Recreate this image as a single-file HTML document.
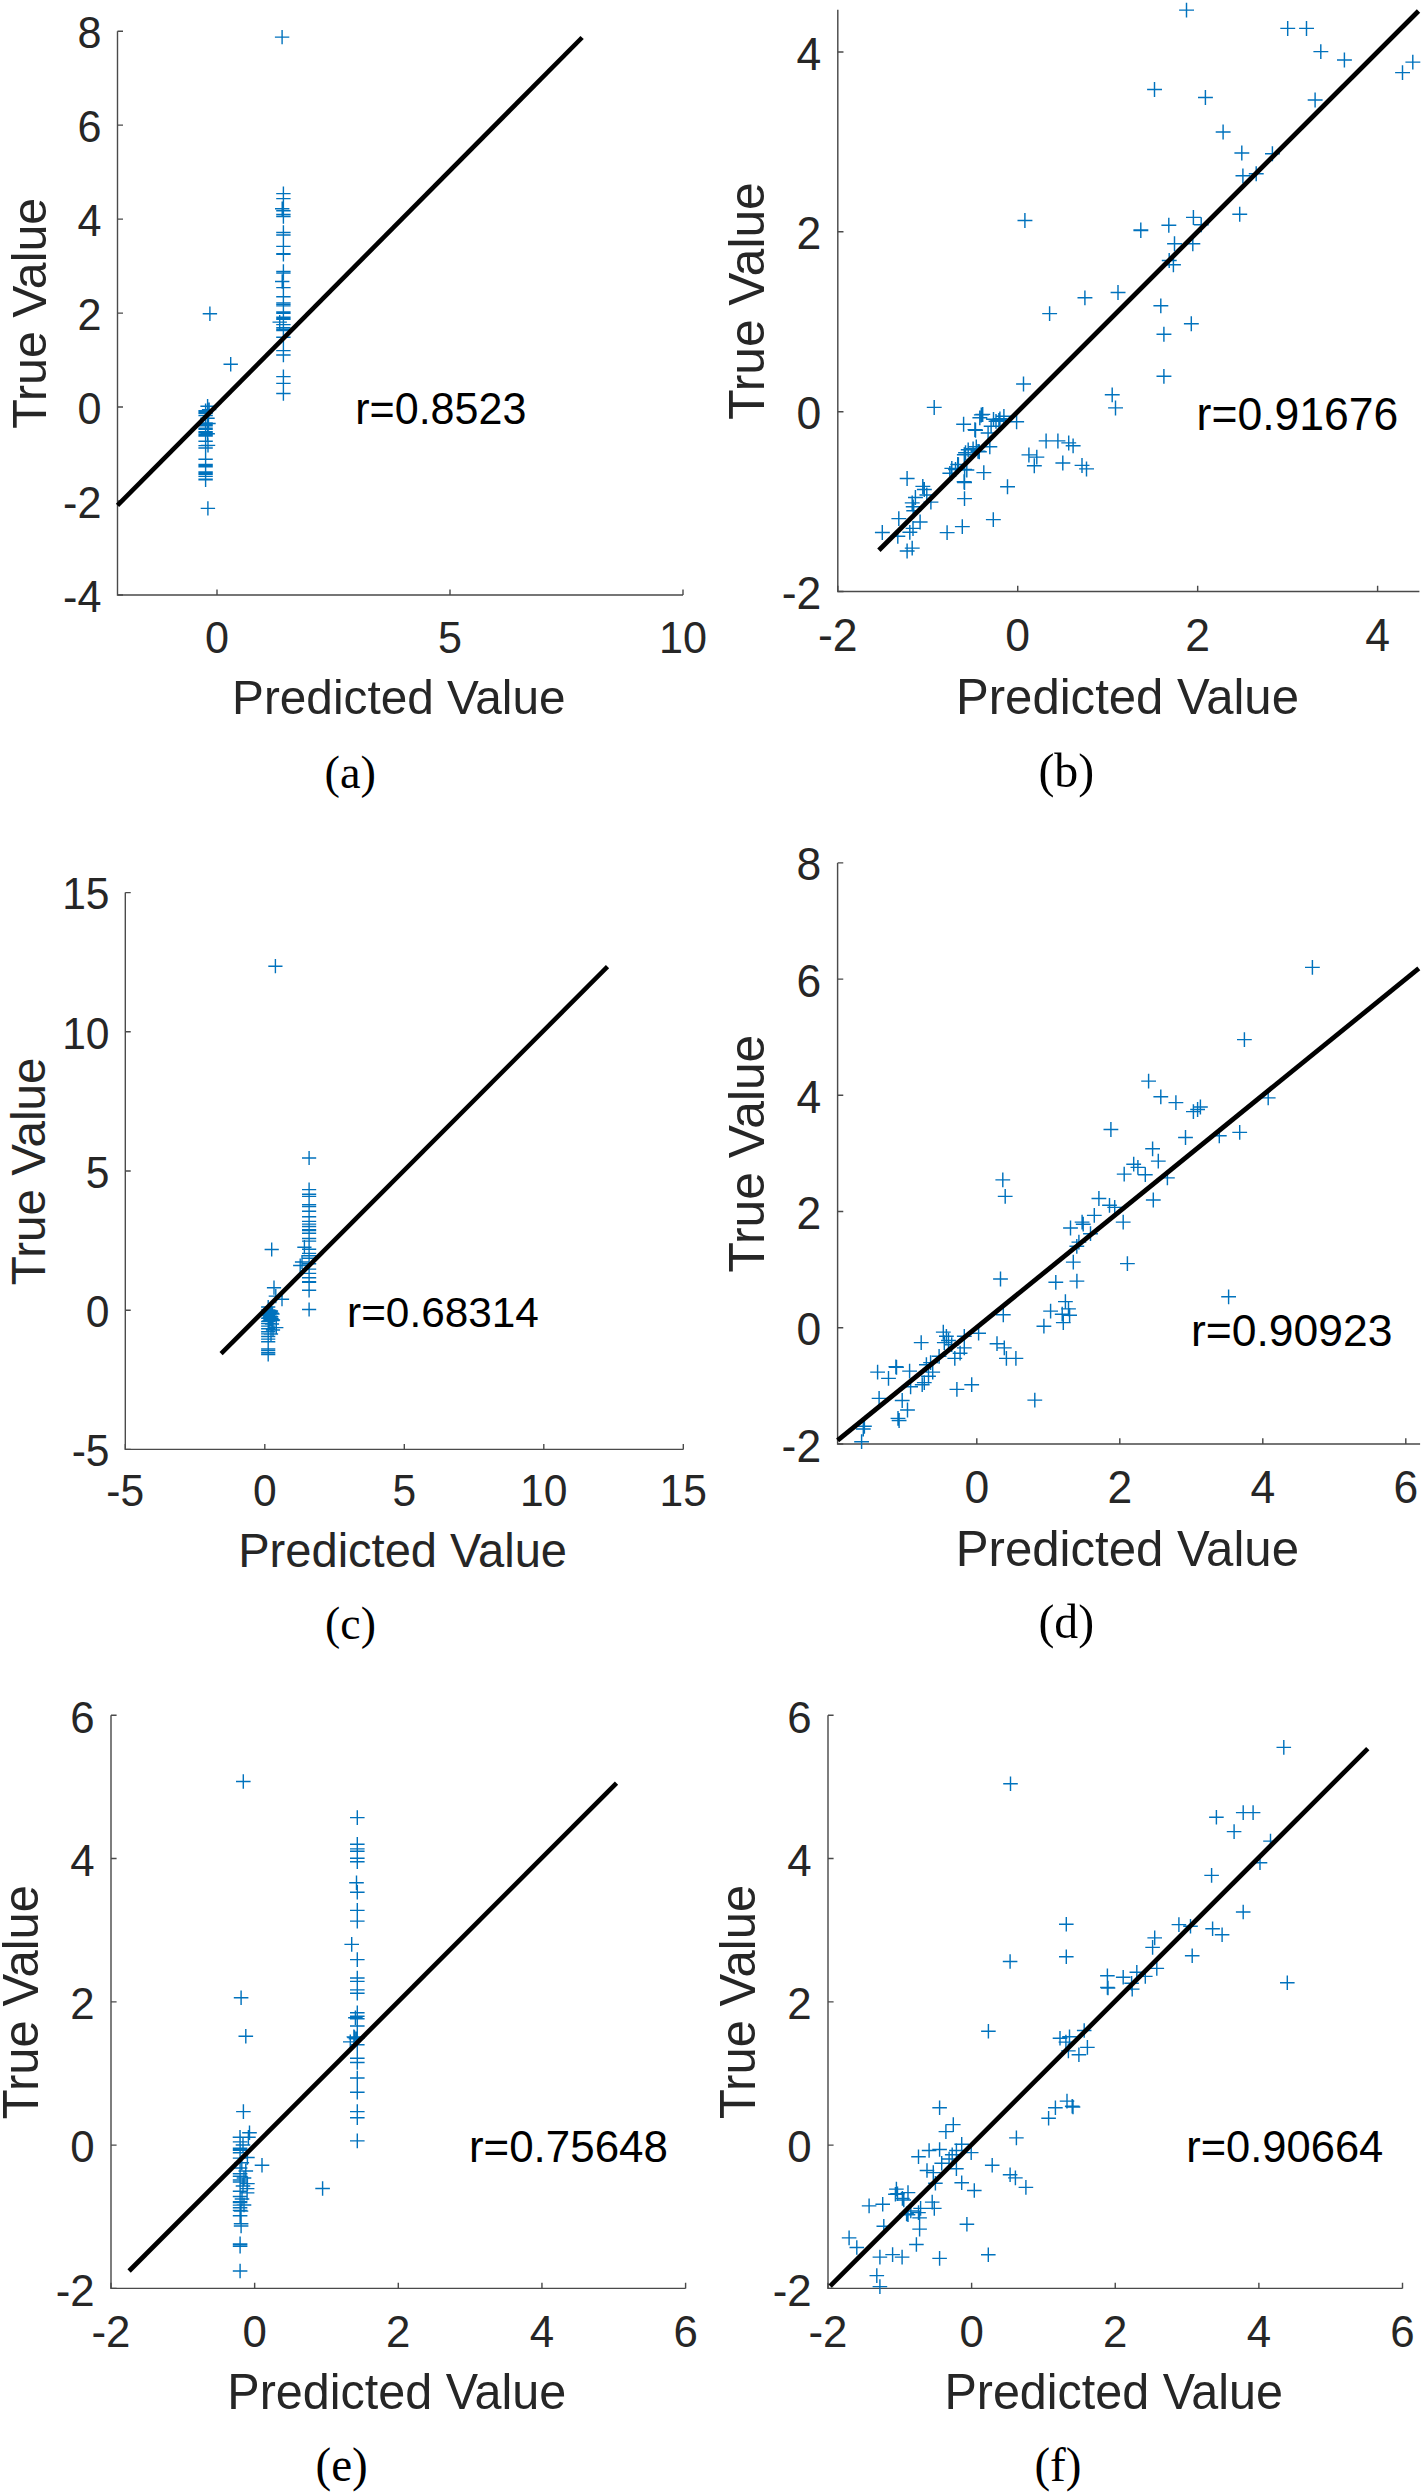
<!DOCTYPE html>
<html><head><meta charset="utf-8"><title>Predicted vs True Value scatter plots</title><style>
html,body{margin:0;padding:0;background:#fff;}
body{width:1425px;height:2492px;overflow:hidden;}
svg{display:block;}
</style></head><body>
<svg width="1425" height="2492" viewBox="0 0 1425 2492">
<rect width="1425" height="2492" fill="#fff"/>
<path d="M117.5,31.2V595H683" fill="none" stroke="#4a4a4a" stroke-width="1.40"/>
<path d="M217.00,595v-5.50M450.00,595v-5.50M683.00,595v-5.50M117.5,595.00h5.50M117.5,501.03h5.50M117.5,407.07h5.50M117.5,313.10h5.50M117.5,219.13h5.50M117.5,125.17h5.50M117.5,31.20h5.50" fill="none" stroke="#4a4a4a" stroke-width="1.40"/>
<text transform="translate(217.00,652.60) scale(0.97,1)" text-anchor="middle" font-family='"Liberation Sans",Arial,Helvetica,sans-serif' font-size="44.50" fill="#262626">0</text>
<text transform="translate(450.00,652.60) scale(0.97,1)" text-anchor="middle" font-family='"Liberation Sans",Arial,Helvetica,sans-serif' font-size="44.50" fill="#262626">5</text>
<text transform="translate(683.00,652.60) scale(0.97,1)" text-anchor="middle" font-family='"Liberation Sans",Arial,Helvetica,sans-serif' font-size="44.50" fill="#262626">10</text>
<text transform="translate(101.50,612.00) scale(0.97,1)" text-anchor="end" font-family='"Liberation Sans",Arial,Helvetica,sans-serif' font-size="44.50" fill="#262626">-4</text>
<text transform="translate(101.50,518.03) scale(0.97,1)" text-anchor="end" font-family='"Liberation Sans",Arial,Helvetica,sans-serif' font-size="44.50" fill="#262626">-2</text>
<text transform="translate(101.50,424.07) scale(0.97,1)" text-anchor="end" font-family='"Liberation Sans",Arial,Helvetica,sans-serif' font-size="44.50" fill="#262626">0</text>
<text transform="translate(101.50,330.10) scale(0.97,1)" text-anchor="end" font-family='"Liberation Sans",Arial,Helvetica,sans-serif' font-size="44.50" fill="#262626">2</text>
<text transform="translate(101.50,236.13) scale(0.97,1)" text-anchor="end" font-family='"Liberation Sans",Arial,Helvetica,sans-serif' font-size="44.50" fill="#262626">4</text>
<text transform="translate(101.50,142.17) scale(0.97,1)" text-anchor="end" font-family='"Liberation Sans",Arial,Helvetica,sans-serif' font-size="44.50" fill="#262626">6</text>
<text transform="translate(101.50,48.20) scale(0.97,1)" text-anchor="end" font-family='"Liberation Sans",Arial,Helvetica,sans-serif' font-size="44.50" fill="#262626">8</text>
<path d="M276.2,193.6h14.4M283.4,186.4v14.4M276.2,198.6h14.4M283.4,191.4v14.4M276.2,210.7h14.4M283.4,203.5v14.4M276.2,214.5h14.4M283.4,207.3v14.4M276.2,216.5h14.4M283.4,209.3v14.4M276.2,232.5h14.4M283.4,225.3v14.4M276.2,235.0h14.4M283.4,227.8v14.4M276.2,246.4h14.4M283.4,239.2v14.4M276.2,253.8h14.4M283.4,246.6v14.4M276.2,254.3h14.4M283.4,247.1v14.4M276.2,271.5h14.4M283.4,264.3v14.4M276.2,273.1h14.4M283.4,265.9v14.4M276.2,287.6h14.4M283.4,280.4v14.4M276.2,296.8h14.4M283.4,289.6v14.4M276.2,302.9h14.4M283.4,295.7v14.4M276.2,304.4h14.4M283.4,297.2v14.4M276.2,305.9h14.4M283.4,298.7v14.4M276.2,312.0h14.4M283.4,304.8v14.4M276.2,313.4h14.4M283.4,306.2v14.4M276.2,317.2h14.4M283.4,310.0v14.4M276.2,318.5h14.4M283.4,311.3v14.4M276.2,319.3h14.4M283.4,312.1v14.4M276.2,324.6h14.4M283.4,317.4v14.4M276.2,327.7h14.4M283.4,320.5v14.4M276.2,329.4h14.4M283.4,322.2v14.4M276.2,330.5h14.4M283.4,323.3v14.4M276.2,337.3h14.4M283.4,330.1v14.4M276.2,350.6h14.4M283.4,343.4v14.4M276.2,355.0h14.4M283.4,347.8v14.4M276.2,376.6h14.4M283.4,369.4v14.4M276.2,383.4h14.4M283.4,376.2v14.4M276.2,393.5h14.4M283.4,386.3v14.4M272.5,322.1h14.4M279.7,314.9v14.4M275.0,208.7h14.4M282.2,201.5v14.4M275.0,281.5h14.4M282.2,274.3v14.4M198.4,410.6h14.4M205.6,403.4v14.4M198.4,411.8h14.4M205.6,404.6v14.4M198.4,413.2h14.4M205.6,406.0v14.4M198.4,415.5h14.4M205.6,408.3v14.4M198.4,423.0h14.4M205.6,415.8v14.4M198.4,424.4h14.4M205.6,417.2v14.4M198.4,425.8h14.4M205.6,418.6v14.4M198.4,428.3h14.4M205.6,421.1v14.4M198.4,429.4h14.4M205.6,422.2v14.4M198.4,431.7h14.4M205.6,424.5v14.4M198.4,432.5h14.4M205.6,425.3v14.4M198.4,434.2h14.4M205.6,427.0v14.4M198.4,435.4h14.4M205.6,428.2v14.4M198.4,436.0h14.4M205.6,428.8v14.4M198.4,441.2h14.4M205.6,434.0v14.4M198.4,445.6h14.4M205.6,438.4v14.4M198.4,448.0h14.4M205.6,440.8v14.4M198.4,459.2h14.4M205.6,452.0v14.4M198.4,464.4h14.4M205.6,457.2v14.4M198.4,465.6h14.4M205.6,458.4v14.4M198.4,466.8h14.4M205.6,459.6v14.4M198.4,472.0h14.4M205.6,464.8v14.4M198.4,473.2h14.4M205.6,466.0v14.4M198.4,474.2h14.4M205.6,467.0v14.4M198.4,476.4h14.4M205.6,469.2v14.4M198.4,479.2h14.4M205.6,472.0v14.4M198.4,479.9h14.4M205.6,472.7v14.4M200.4,406.3h14.4M207.6,399.1v14.4M201.9,409.6h14.4M209.1,402.4v14.4M200.3,418.3h14.4M207.5,411.1v14.4M201.3,423.5h14.4M208.5,416.3v14.4M200.5,433.8h14.4M207.7,426.6v14.4M200.8,445.4h14.4M208.0,438.2v14.4M200.7,508.4h14.4M207.9,501.2v14.4M202.7,313.7h14.4M209.9,306.5v14.4M223.5,364.3h14.4M230.7,357.1v14.4M274.9,37.1h14.4M282.1,29.9v14.4" fill="none" stroke="#0072BD" stroke-width="1.40"/>
<line x1="117.5" y1="505.4" x2="582.1" y2="37.5" stroke="#000" stroke-width="4.60"/>
<text transform="translate(355.18,424.20) scale(0.9814,1)" font-family='"Liberation Sans",Arial,Helvetica,sans-serif' font-size="43.90" fill="#000">r=0.8523</text>
<text transform="translate(232.08,713.90) scale(0.9864,1)" font-family='"Liberation Sans",Arial,Helvetica,sans-serif' font-size="48.40" fill="#262626">Predicted Value</text>
<text transform="translate(45.90,428.77) rotate(-90) scale(1.0001,1)" font-family='"Liberation Sans",Arial,Helvetica,sans-serif' font-size="48.30" fill="#262626">True Value</text>
<text transform="translate(350.20,787.57) scale(0.98,1)" text-anchor="middle" font-family='"Liberation Serif","Times New Roman",serif' font-size="47.30" fill="#000">(a)</text>
<path d="M837.8,9.8V591.5H1419.4" fill="none" stroke="#4a4a4a" stroke-width="1.44"/>
<path d="M837.80,591.5v-5.68M1017.73,591.5v-5.68M1197.67,591.5v-5.68M1377.60,591.5v-5.68M837.8,591.50h5.68M837.8,411.67h5.68M837.8,231.83h5.68M837.8,52.00h5.68" fill="none" stroke="#4a4a4a" stroke-width="1.44"/>
<text transform="translate(837.80,650.94) scale(0.97,1)" text-anchor="middle" font-family='"Liberation Sans",Arial,Helvetica,sans-serif' font-size="45.92" fill="#262626">-2</text>
<text transform="translate(1017.73,650.94) scale(0.97,1)" text-anchor="middle" font-family='"Liberation Sans",Arial,Helvetica,sans-serif' font-size="45.92" fill="#262626">0</text>
<text transform="translate(1197.67,650.94) scale(0.97,1)" text-anchor="middle" font-family='"Liberation Sans",Arial,Helvetica,sans-serif' font-size="45.92" fill="#262626">2</text>
<text transform="translate(1377.60,650.94) scale(0.97,1)" text-anchor="middle" font-family='"Liberation Sans",Arial,Helvetica,sans-serif' font-size="45.92" fill="#262626">4</text>
<text transform="translate(821.29,609.04) scale(0.97,1)" text-anchor="end" font-family='"Liberation Sans",Arial,Helvetica,sans-serif' font-size="45.92" fill="#262626">-2</text>
<text transform="translate(821.29,429.21) scale(0.97,1)" text-anchor="end" font-family='"Liberation Sans",Arial,Helvetica,sans-serif' font-size="45.92" fill="#262626">0</text>
<text transform="translate(821.29,249.38) scale(0.97,1)" text-anchor="end" font-family='"Liberation Sans",Arial,Helvetica,sans-serif' font-size="45.92" fill="#262626">2</text>
<text transform="translate(821.29,69.54) scale(0.97,1)" text-anchor="end" font-family='"Liberation Sans",Arial,Helvetica,sans-serif' font-size="45.92" fill="#262626">4</text>
<path d="M1179.1,10.1h14.9M1186.5,2.7v14.9M1280.3,28.4h14.9M1287.7,21.0v14.9M1299.1,28.4h14.9M1306.5,21.0v14.9M1313.4,51.6h14.9M1320.8,44.2v14.9M1337.0,60.0h14.9M1344.4,52.6v14.9M1405.4,62.1h14.9M1412.8,54.7v14.9M1395.1,72.6h14.9M1402.5,65.2v14.9M1147.1,89.5h14.9M1154.5,82.1v14.9M1198.0,97.5h14.9M1205.4,90.1v14.9M1307.7,100.0h14.9M1315.1,92.6v14.9M1215.7,132.0h14.9M1223.1,124.6v14.9M1234.4,153.0h14.9M1241.8,145.6v14.9M1265.0,153.7h14.9M1272.4,146.3v14.9M1235.5,175.8h14.9M1242.9,168.4v14.9M1248.8,173.7h14.9M1256.2,166.3v14.9M1133.4,230.0h14.9M1140.8,222.6v14.9M1133.4,230.6h14.9M1140.8,223.2v14.9M1161.4,225.2h14.9M1168.8,217.8v14.9M1186.0,217.4h14.9M1193.4,210.0v14.9M1193.8,224.7h14.9M1201.2,217.3v14.9M1167.1,243.7h14.9M1174.5,236.3v14.9M1185.4,243.7h14.9M1192.8,236.3v14.9M1161.8,260.5h14.9M1169.2,253.1v14.9M1166.0,264.7h14.9M1173.4,257.3v14.9M1232.3,214.2h14.9M1239.7,206.8v14.9M1153.4,305.8h14.9M1160.8,298.4v14.9M1183.9,323.7h14.9M1191.3,316.3v14.9M1156.5,334.2h14.9M1163.9,326.8v14.9M1156.5,376.3h14.9M1163.9,368.9v14.9M1017.5,220.5h14.9M1024.9,213.1v14.9M1042.2,313.6h14.9M1049.6,306.2v14.9M1077.5,297.8h14.9M1084.9,290.4v14.9M1110.6,292.5h14.9M1118.0,285.1v14.9M1016.1,384.0h14.9M1023.5,376.6v14.9M1104.8,394.8h14.9M1112.2,387.4v14.9M1108.1,407.9h14.9M1115.5,400.5v14.9M926.8,407.4h14.9M934.2,400.0v14.9M899.7,478.5h14.9M907.1,471.1v14.9M915.4,486.4h14.9M922.8,479.0v14.9M916.9,489.5h14.9M924.3,482.1v14.9M919.4,495.0h14.9M926.8,487.6v14.9M923.5,502.1h14.9M930.9,494.7v14.9M908.0,497.5h14.9M915.4,490.1v14.9M904.8,502.9h14.9M912.2,495.5v14.9M905.8,506.8h14.9M913.2,499.4v14.9M906.3,510.7h14.9M913.7,503.3v14.9M891.4,518.6h14.9M898.8,511.2v14.9M912.7,522.0h14.9M920.1,514.6v14.9M905.6,528.4h14.9M913.0,521.0v14.9M902.4,532.3h14.9M909.8,524.9v14.9M874.9,532.5h14.9M882.3,525.1v14.9M890.4,536.3h14.9M897.8,528.9v14.9M899.7,551.0h14.9M907.1,543.6v14.9M904.8,548.1h14.9M912.2,540.7v14.9M939.7,532.6h14.9M947.1,525.2v14.9M954.9,526.6h14.9M962.3,519.2v14.9M985.9,519.6h14.9M993.3,512.2v14.9M957.1,498.6h14.9M964.5,491.2v14.9M956.7,481.7h14.9M964.1,474.3v14.9M957.1,482.5h14.9M964.5,475.1v14.9M976.4,472.6h14.9M983.8,465.2v14.9M1000.1,486.7h14.9M1007.5,479.3v14.9M959.4,470.0h14.9M966.8,462.6v14.9M944.1,473.4h14.9M951.5,466.0v14.9M948.1,469.5h14.9M955.5,462.1v14.9M951.0,464.6h14.9M958.4,457.2v14.9M960.8,449.8h14.9M968.2,442.4v14.9M965.7,448.8h14.9M973.1,441.4v14.9M970.6,451.3h14.9M978.0,443.9v14.9M982.4,446.7h14.9M989.8,439.3v14.9M956.9,454.7h14.9M964.3,447.3v14.9M956.2,424.2h14.9M963.6,416.8v14.9M973.9,414.9h14.9M981.3,407.5v14.9M972.4,417.8h14.9M979.8,410.4v14.9M975.3,414.4h14.9M982.7,407.0v14.9M967.5,429.6h14.9M974.9,422.2v14.9M968.1,430.2h14.9M975.5,422.8v14.9M986.1,419.3h14.9M993.5,411.9v14.9M988.6,421.3h14.9M996.0,413.9v14.9M991.5,420.3h14.9M998.9,412.9v14.9M992.5,418.8h14.9M999.9,411.4v14.9M996.5,416.3h14.9M1003.9,408.9v14.9M1009.2,421.7h14.9M1016.6,414.3v14.9M980.7,433.0h14.9M988.1,425.6v14.9M983.7,426.2h14.9M991.1,418.8v14.9M968.9,446.8h14.9M976.3,439.4v14.9M958.1,452.7h14.9M965.5,445.3v14.9M971.9,451.7h14.9M979.3,444.3v14.9M950.3,464.5h14.9M957.7,457.1v14.9M944.4,468.4h14.9M951.8,461.0v14.9M957.2,469.4h14.9M964.6,462.0v14.9M942.4,473.3h14.9M949.8,465.9v14.9M1038.7,440.9h14.9M1046.1,433.5v14.9M1050.5,440.9h14.9M1057.9,433.5v14.9M1061.3,442.9h14.9M1068.7,435.5v14.9M1065.7,445.8h14.9M1073.1,438.4v14.9M1021.5,454.9h14.9M1028.9,447.5v14.9M1029.4,457.1h14.9M1036.8,449.7v14.9M1026.9,465.7h14.9M1034.3,458.3v14.9M1055.4,463.0h14.9M1062.8,455.6v14.9M1074.6,465.4h14.9M1082.0,458.0v14.9M1079.1,468.9h14.9M1086.5,461.5v14.9" fill="none" stroke="#0072BD" stroke-width="1.44"/>
<line x1="878.9" y1="550.3" x2="1418.5" y2="11" stroke="#000" stroke-width="4.75"/>
<text transform="translate(1196.58,429.90) scale(0.9833,1)" font-family='"Liberation Sans",Arial,Helvetica,sans-serif' font-size="45.30" fill="#000">r=0.91676</text>
<text transform="translate(955.97,713.80) scale(0.9835,1)" font-family='"Liberation Sans",Arial,Helvetica,sans-serif' font-size="49.95" fill="#262626">Predicted Value</text>
<text transform="translate(763.90,419.69) rotate(-90) scale(0.9963,1)" font-family='"Liberation Sans",Arial,Helvetica,sans-serif' font-size="49.85" fill="#262626">True Value</text>
<text transform="translate(1066.30,786.85) scale(0.98,1)" text-anchor="middle" font-family='"Liberation Serif","Times New Roman",serif' font-size="48.81" fill="#000">(b)</text>
<path d="M125.3,892.6V1449.4H683.3" fill="none" stroke="#4a4a4a" stroke-width="1.38"/>
<path d="M125.30,1449.4v-5.43M264.80,1449.4v-5.43M404.30,1449.4v-5.43M543.80,1449.4v-5.43M683.30,1449.4v-5.43M125.3,1449.40h5.43M125.3,1310.20h5.43M125.3,1171.00h5.43M125.3,1031.80h5.43M125.3,892.60h5.43" fill="none" stroke="#4a4a4a" stroke-width="1.38"/>
<text transform="translate(125.30,1506.25) scale(0.97,1)" text-anchor="middle" font-family='"Liberation Sans",Arial,Helvetica,sans-serif' font-size="43.92" fill="#262626">-5</text>
<text transform="translate(264.80,1506.25) scale(0.97,1)" text-anchor="middle" font-family='"Liberation Sans",Arial,Helvetica,sans-serif' font-size="43.92" fill="#262626">0</text>
<text transform="translate(404.30,1506.25) scale(0.97,1)" text-anchor="middle" font-family='"Liberation Sans",Arial,Helvetica,sans-serif' font-size="43.92" fill="#262626">5</text>
<text transform="translate(543.80,1506.25) scale(0.97,1)" text-anchor="middle" font-family='"Liberation Sans",Arial,Helvetica,sans-serif' font-size="43.92" fill="#262626">10</text>
<text transform="translate(683.30,1506.25) scale(0.97,1)" text-anchor="middle" font-family='"Liberation Sans",Arial,Helvetica,sans-serif' font-size="43.92" fill="#262626">15</text>
<text transform="translate(109.51,1466.18) scale(0.97,1)" text-anchor="end" font-family='"Liberation Sans",Arial,Helvetica,sans-serif' font-size="43.92" fill="#262626">-5</text>
<text transform="translate(109.51,1326.98) scale(0.97,1)" text-anchor="end" font-family='"Liberation Sans",Arial,Helvetica,sans-serif' font-size="43.92" fill="#262626">0</text>
<text transform="translate(109.51,1187.78) scale(0.97,1)" text-anchor="end" font-family='"Liberation Sans",Arial,Helvetica,sans-serif' font-size="43.92" fill="#262626">5</text>
<text transform="translate(109.51,1048.58) scale(0.97,1)" text-anchor="end" font-family='"Liberation Sans",Arial,Helvetica,sans-serif' font-size="43.92" fill="#262626">10</text>
<text transform="translate(109.51,909.38) scale(0.97,1)" text-anchor="end" font-family='"Liberation Sans",Arial,Helvetica,sans-serif' font-size="43.92" fill="#262626">15</text>
<path d="M302.0,1189.6h14.2M309.1,1182.5v14.2M302.0,1194.2h14.2M309.1,1187.1v14.2M302.0,1196.4h14.2M309.1,1189.3v14.2M302.0,1204.6h14.2M309.1,1197.5v14.2M302.0,1206.5h14.2M309.1,1199.4v14.2M302.0,1211.3h14.2M309.1,1204.2v14.2M302.0,1216.8h14.2M309.1,1209.7v14.2M302.0,1221.4h14.2M309.1,1214.3v14.2M302.0,1224.1h14.2M309.1,1217.0v14.2M302.0,1226.5h14.2M309.1,1219.4v14.2M302.0,1229.8h14.2M309.1,1222.7v14.2M302.0,1230.6h14.2M309.1,1223.5v14.2M302.0,1233.2h14.2M309.1,1226.1v14.2M302.0,1238.5h14.2M309.1,1231.4v14.2M302.0,1241.1h14.2M309.1,1234.0v14.2M302.0,1249.3h14.2M309.1,1242.2v14.2M302.0,1253.4h14.2M309.1,1246.3v14.2M302.0,1255.8h14.2M309.1,1248.7v14.2M302.0,1258.2h14.2M309.1,1251.1v14.2M302.0,1263.8h14.2M309.1,1256.7v14.2M302.0,1269.1h14.2M309.1,1262.0v14.2M302.0,1273.4h14.2M309.1,1266.3v14.2M302.0,1277.7h14.2M309.1,1270.6v14.2M302.0,1281.6h14.2M309.1,1274.5v14.2M302.0,1282.3h14.2M309.1,1275.2v14.2M302.0,1290.3h14.2M309.1,1283.2v14.2M302.0,1158.0h14.2M309.1,1150.9v14.2M302.0,1309.5h14.2M309.1,1302.4v14.2M297.3,1247.2h14.2M304.4,1240.1v14.2M293.1,1265.5h14.2M300.2,1258.4v14.2M294.9,1262.0h14.2M302.0,1254.9v14.2M261.1,1307.0h14.2M268.2,1299.9v14.2M261.1,1309.9h14.2M268.2,1302.8v14.2M261.1,1313.0h14.2M268.2,1305.9v14.2M261.1,1315.6h14.2M268.2,1308.5v14.2M261.1,1318.2h14.2M268.2,1311.1v14.2M261.1,1321.4h14.2M268.2,1314.3v14.2M261.1,1323.5h14.2M268.2,1316.4v14.2M261.1,1326.1h14.2M268.2,1319.0v14.2M261.1,1328.7h14.2M268.2,1321.6v14.2M261.1,1331.8h14.2M268.2,1324.7v14.2M261.1,1333.9h14.2M268.2,1326.8v14.2M261.1,1336.5h14.2M268.2,1329.4v14.2M261.1,1339.1h14.2M268.2,1332.0v14.2M261.1,1341.7h14.2M268.2,1334.6v14.2M261.1,1349.0h14.2M268.2,1341.9v14.2M261.1,1350.6h14.2M268.2,1343.5v14.2M261.1,1352.7h14.2M268.2,1345.6v14.2M261.1,1354.5h14.2M268.2,1347.4v14.2M263.9,1311.0h14.2M271.0,1303.9v14.2M265.4,1314.0h14.2M272.5,1306.9v14.2M263.9,1317.0h14.2M271.0,1309.9v14.2M265.9,1320.0h14.2M273.0,1312.9v14.2M264.9,1324.0h14.2M272.0,1316.9v14.2M269.2,1327.6h14.2M276.3,1320.5v14.2M265.9,1330.0h14.2M273.0,1322.9v14.2M263.9,1334.0h14.2M271.0,1326.9v14.2M262.4,1310.5h14.2M269.5,1303.4v14.2M263.4,1311.8h14.2M270.5,1304.7v14.2M261.7,1312.6h14.2M268.8,1305.5v14.2M264.7,1313.2h14.2M271.8,1306.1v14.2M262.1,1314.4h14.2M269.2,1307.3v14.2M263.1,1316.2h14.2M270.2,1309.1v14.2M264.1,1316.8h14.2M271.2,1309.7v14.2M262.5,1317.8h14.2M269.6,1310.7v14.2M264.5,1318.6h14.2M271.6,1311.5v14.2M263.3,1319.6h14.2M270.4,1312.5v14.2M265.3,1320.6h14.2M272.4,1313.5v14.2M261.9,1320.9h14.2M269.0,1313.8v14.2M264.6,1249.5h14.2M271.7,1242.4v14.2M266.9,1287.7h14.2M274.0,1280.6v14.2M268.7,1296.1h14.2M275.8,1289.0v14.2M274.9,1299.2h14.2M282.0,1292.1v14.2M268.3,966.2h14.2M275.4,959.1v14.2" fill="none" stroke="#0072BD" stroke-width="1.38"/>
<line x1="221.1" y1="1353.7" x2="607.5" y2="966.7" stroke="#000" stroke-width="4.54"/>
<text transform="translate(347.04,1326.80) scale(0.9773,1)" font-family='"Liberation Sans",Arial,Helvetica,sans-serif' font-size="43.33" fill="#000">r=0.68314</text>
<text transform="translate(238.23,1566.50) scale(0.9856,1)" font-family='"Liberation Sans",Arial,Helvetica,sans-serif' font-size="47.77" fill="#262626">Predicted Value</text>
<text transform="translate(45.20,1285.15) rotate(-90) scale(0.9995,1)" font-family='"Liberation Sans",Arial,Helvetica,sans-serif' font-size="47.67" fill="#262626">True Value</text>
<text transform="translate(350.50,1638.80) scale(0.98,1)" text-anchor="middle" font-family='"Liberation Serif","Times New Roman",serif' font-size="46.69" fill="#000">(c)</text>
<path d="M837.6,862.9V1444H1420.1" fill="none" stroke="#4a4a4a" stroke-width="1.44"/>
<path d="M976.80,1444v-5.67M1119.80,1444v-5.67M1262.80,1444v-5.67M1405.80,1444v-5.67M837.6,1444.00h5.67M837.6,1327.78h5.67M837.6,1211.56h5.67M837.6,1095.34h5.67M837.6,979.12h5.67M837.6,862.90h5.67" fill="none" stroke="#4a4a4a" stroke-width="1.44"/>
<text transform="translate(976.80,1503.33) scale(0.97,1)" text-anchor="middle" font-family='"Liberation Sans",Arial,Helvetica,sans-serif' font-size="45.84" fill="#262626">0</text>
<text transform="translate(1119.80,1503.33) scale(0.97,1)" text-anchor="middle" font-family='"Liberation Sans",Arial,Helvetica,sans-serif' font-size="45.84" fill="#262626">2</text>
<text transform="translate(1262.80,1503.33) scale(0.97,1)" text-anchor="middle" font-family='"Liberation Sans",Arial,Helvetica,sans-serif' font-size="45.84" fill="#262626">4</text>
<text transform="translate(1405.80,1503.33) scale(0.97,1)" text-anchor="middle" font-family='"Liberation Sans",Arial,Helvetica,sans-serif' font-size="45.84" fill="#262626">6</text>
<text transform="translate(821.12,1461.51) scale(0.97,1)" text-anchor="end" font-family='"Liberation Sans",Arial,Helvetica,sans-serif' font-size="45.84" fill="#262626">-2</text>
<text transform="translate(821.12,1345.29) scale(0.97,1)" text-anchor="end" font-family='"Liberation Sans",Arial,Helvetica,sans-serif' font-size="45.84" fill="#262626">0</text>
<text transform="translate(821.12,1229.07) scale(0.97,1)" text-anchor="end" font-family='"Liberation Sans",Arial,Helvetica,sans-serif' font-size="45.84" fill="#262626">2</text>
<text transform="translate(821.12,1112.85) scale(0.97,1)" text-anchor="end" font-family='"Liberation Sans",Arial,Helvetica,sans-serif' font-size="45.84" fill="#262626">4</text>
<text transform="translate(821.12,996.63) scale(0.97,1)" text-anchor="end" font-family='"Liberation Sans",Arial,Helvetica,sans-serif' font-size="45.84" fill="#262626">6</text>
<text transform="translate(821.12,880.41) scale(0.97,1)" text-anchor="end" font-family='"Liberation Sans",Arial,Helvetica,sans-serif' font-size="45.84" fill="#262626">8</text>
<path d="M1305.0,967.4h14.8M1312.4,960.0v14.8M1237.0,1039.6h14.8M1244.4,1032.2v14.8M1141.2,1081.1h14.8M1148.6,1073.7v14.8M1153.4,1096.8h14.8M1160.8,1089.4v14.8M1168.5,1102.6h14.8M1175.9,1095.2v14.8M1186.0,1111.6h14.8M1193.4,1104.2v14.8M1190.2,1109.5h14.8M1197.6,1102.1v14.8M1193.0,1107.0h14.8M1200.4,1099.6v14.8M1260.8,1097.9h14.8M1268.2,1090.5v14.8M1232.3,1132.4h14.8M1239.7,1125.0v14.8M1211.9,1135.8h14.8M1219.3,1128.4v14.8M1178.1,1137.5h14.8M1185.5,1130.1v14.8M1103.5,1129.5h14.8M1110.9,1122.1v14.8M1145.2,1148.8h14.8M1152.6,1141.4v14.8M1150.9,1161.1h14.8M1158.3,1153.7v14.8M1126.3,1164.2h14.8M1133.7,1156.8v14.8M1130.5,1167.4h14.8M1137.9,1160.0v14.8M1137.9,1174.7h14.8M1145.3,1167.3v14.8M1116.8,1174.1h14.8M1124.2,1166.7v14.8M1160.0,1177.9h14.8M1167.4,1170.5v14.8M995.4,1179.9h14.8M1002.8,1172.5v14.8M997.8,1196.4h14.8M1005.2,1189.0v14.8M1091.5,1198.5h14.8M1098.9,1191.1v14.8M1102.1,1205.3h14.8M1109.5,1197.9v14.8M1107.3,1207.4h14.8M1114.7,1200.0v14.8M1145.9,1200.0h14.8M1153.3,1192.6v14.8M1086.9,1215.4h14.8M1094.3,1208.0v14.8M1074.7,1222.1h14.8M1082.1,1214.7v14.8M1075.8,1224.2h14.8M1083.2,1216.8v14.8M1063.1,1228.0h14.8M1070.5,1220.6v14.8M1115.8,1222.1h14.8M1123.2,1214.7v14.8M1083.1,1233.7h14.8M1090.5,1226.3v14.8M1071.5,1242.1h14.8M1078.9,1234.7v14.8M1069.4,1246.3h14.8M1076.8,1238.9v14.8M1065.9,1262.1h14.8M1073.3,1254.7v14.8M1120.0,1263.6h14.8M1127.4,1256.2v14.8M1048.4,1282.3h14.8M1055.8,1274.9v14.8M1069.5,1281.1h14.8M1076.9,1273.7v14.8M993.1,1279.0h14.8M1000.5,1271.6v14.8M1221.2,1296.8h14.8M1228.6,1289.4v14.8M1058.0,1301.6h14.8M1065.4,1294.2v14.8M1043.2,1311.1h14.8M1050.6,1303.7v14.8M1061.1,1308.9h14.8M1068.5,1301.5v14.8M1054.8,1314.2h14.8M1062.2,1306.8v14.8M1062.2,1315.3h14.8M1069.6,1307.9v14.8M1055.9,1322.6h14.8M1063.3,1315.2v14.8M1036.5,1326.2h14.8M1043.9,1318.8v14.8M995.9,1314.8h14.8M1003.3,1307.4v14.8M971.2,1333.2h14.8M978.6,1325.8v14.8M956.9,1336.3h14.8M964.3,1328.9v14.8M935.9,1332.1h14.8M943.3,1324.7v14.8M939.0,1336.3h14.8M946.4,1328.9v14.8M941.1,1340.5h14.8M948.5,1333.1v14.8M936.9,1342.6h14.8M944.3,1335.2v14.8M944.3,1344.7h14.8M951.7,1337.3v14.8M913.8,1342.6h14.8M921.2,1335.2v14.8M989.6,1343.7h14.8M997.0,1336.3v14.8M996.9,1347.9h14.8M1004.3,1340.5v14.8M956.9,1347.9h14.8M964.3,1340.5v14.8M952.7,1353.2h14.8M960.1,1345.8v14.8M999.0,1358.4h14.8M1006.4,1351.0v14.8M1008.5,1358.4h14.8M1015.9,1351.0v14.8M947.4,1358.4h14.8M954.8,1351.0v14.8M931.7,1356.3h14.8M939.1,1348.9v14.8M923.2,1362.6h14.8M930.6,1355.2v14.8M919.0,1364.7h14.8M926.4,1357.3v14.8M888.5,1366.8h14.8M895.9,1359.4v14.8M889.1,1367.3h14.8M896.5,1359.9v14.8M902.2,1371.1h14.8M909.6,1363.7v14.8M870.2,1372.1h14.8M877.6,1364.7v14.8M881.1,1378.4h14.8M888.5,1371.0v14.8M925.3,1372.1h14.8M932.7,1364.7v14.8M921.1,1376.3h14.8M928.5,1368.9v14.8M916.9,1382.6h14.8M924.3,1375.2v14.8M914.8,1384.7h14.8M922.2,1377.3v14.8M903.2,1386.8h14.8M910.6,1379.4v14.8M949.5,1389.4h14.8M956.9,1382.0v14.8M964.3,1384.7h14.8M971.7,1377.3v14.8M1027.4,1400.1h14.8M1034.8,1392.7v14.8M871.7,1398.4h14.8M879.1,1391.0v14.8M894.8,1400.5h14.8M902.2,1393.1v14.8M900.1,1410.0h14.8M907.5,1402.6v14.8M890.6,1418.4h14.8M898.0,1411.0v14.8M891.7,1420.5h14.8M899.1,1413.1v14.8M855.9,1429.0h14.8M863.3,1421.6v14.8M857.0,1426.3h14.8M864.4,1418.9v14.8M854.2,1441.7h14.8M861.6,1434.3v14.8" fill="none" stroke="#0072BD" stroke-width="1.44"/>
<line x1="837.6" y1="1440.4" x2="1418.8" y2="968.4" stroke="#000" stroke-width="4.74"/>
<text transform="translate(1190.99,1345.90) scale(0.9837,1)" font-family='"Liberation Sans",Arial,Helvetica,sans-serif' font-size="45.22" fill="#000">r=0.90923</text>
<text transform="translate(955.77,1566.10) scale(0.9857,1)" font-family='"Liberation Sans",Arial,Helvetica,sans-serif' font-size="49.85" fill="#262626">Predicted Value</text>
<text transform="translate(763.80,1272.49) rotate(-90) scale(0.9999,1)" font-family='"Liberation Sans",Arial,Helvetica,sans-serif' font-size="49.75" fill="#262626">True Value</text>
<text transform="translate(1066.30,1638.37) scale(0.98,1)" text-anchor="middle" font-family='"Liberation Serif","Times New Roman",serif' font-size="48.72" fill="#000">(d)</text>
<path d="M111,1715.3V2288.4H685.6" fill="none" stroke="#4a4a4a" stroke-width="1.42"/>
<path d="M111.00,2288.4v-5.59M254.65,2288.4v-5.59M398.30,2288.4v-5.59M541.95,2288.4v-5.59M685.60,2288.4v-5.59M111,2288.40h5.59M111,2145.12h5.59M111,2001.85h5.59M111,1858.58h5.59M111,1715.30h5.59" fill="none" stroke="#4a4a4a" stroke-width="1.42"/>
<text transform="translate(111.00,2346.92) scale(0.97,1)" text-anchor="middle" font-family='"Liberation Sans",Arial,Helvetica,sans-serif' font-size="45.21" fill="#262626">-2</text>
<text transform="translate(254.65,2346.92) scale(0.97,1)" text-anchor="middle" font-family='"Liberation Sans",Arial,Helvetica,sans-serif' font-size="45.21" fill="#262626">0</text>
<text transform="translate(398.30,2346.92) scale(0.97,1)" text-anchor="middle" font-family='"Liberation Sans",Arial,Helvetica,sans-serif' font-size="45.21" fill="#262626">2</text>
<text transform="translate(541.95,2346.92) scale(0.97,1)" text-anchor="middle" font-family='"Liberation Sans",Arial,Helvetica,sans-serif' font-size="45.21" fill="#262626">4</text>
<text transform="translate(685.60,2346.92) scale(0.97,1)" text-anchor="middle" font-family='"Liberation Sans",Arial,Helvetica,sans-serif' font-size="45.21" fill="#262626">6</text>
<text transform="translate(94.74,2305.67) scale(0.97,1)" text-anchor="end" font-family='"Liberation Sans",Arial,Helvetica,sans-serif' font-size="45.21" fill="#262626">-2</text>
<text transform="translate(94.74,2162.40) scale(0.97,1)" text-anchor="end" font-family='"Liberation Sans",Arial,Helvetica,sans-serif' font-size="45.21" fill="#262626">0</text>
<text transform="translate(94.74,2019.12) scale(0.97,1)" text-anchor="end" font-family='"Liberation Sans",Arial,Helvetica,sans-serif' font-size="45.21" fill="#262626">2</text>
<text transform="translate(94.74,1875.85) scale(0.97,1)" text-anchor="end" font-family='"Liberation Sans",Arial,Helvetica,sans-serif' font-size="45.21" fill="#262626">4</text>
<text transform="translate(94.74,1732.57) scale(0.97,1)" text-anchor="end" font-family='"Liberation Sans",Arial,Helvetica,sans-serif' font-size="45.21" fill="#262626">6</text>
<path d="M232.8,2141.9h14.6M240.1,2134.6v14.6M232.8,2148.2h14.6M240.1,2140.9v14.6M232.8,2149.0h14.6M240.1,2141.7v14.6M232.8,2150.2h14.6M240.1,2142.9v14.6M232.8,2152.8h14.6M240.1,2145.5v14.6M232.8,2158.1h14.6M240.1,2150.8v14.6M232.8,2168.0h14.6M240.1,2160.7v14.6M232.8,2173.7h14.6M240.1,2166.4v14.6M232.8,2176.3h14.6M240.1,2169.0v14.6M232.8,2180.0h14.6M240.1,2172.7v14.6M232.8,2182.0h14.6M240.1,2174.7v14.6M232.8,2191.2h14.6M240.1,2183.9v14.6M232.8,2196.5h14.6M240.1,2189.2v14.6M232.8,2201.8h14.6M240.1,2194.5v14.6M232.8,2202.5h14.6M240.1,2195.2v14.6M232.8,2205.1h14.6M240.1,2197.8v14.6M232.8,2207.8h14.6M240.1,2200.5v14.6M232.8,2210.4h14.6M240.1,2203.1v14.6M232.8,2215.7h14.6M240.1,2208.4v14.6M232.8,2243.9h14.6M240.1,2236.6v14.6M232.8,2244.6h14.6M240.1,2237.3v14.6M232.8,2246.2h14.6M240.1,2238.9v14.6M232.8,2271.0h14.6M240.1,2263.7v14.6M242.2,2132.8h14.6M249.5,2125.5v14.6M241.1,2137.3h14.6M248.4,2130.0v14.6M240.1,2157.5h14.6M247.4,2150.2v14.6M234.5,2162.7h14.6M241.8,2155.4v14.6M254.7,2165.2h14.6M262.0,2157.9v14.6M238.5,2171.0h14.6M245.8,2163.7v14.6M240.1,2183.6h14.6M247.4,2176.3v14.6M239.8,2188.6h14.6M247.1,2181.3v14.6M239.8,2192.9h14.6M247.1,2185.6v14.6M233.7,2211.1h14.6M241.0,2203.8v14.6M233.8,2223.7h14.6M241.1,2216.4v14.6M233.8,2226.0h14.6M241.1,2218.7v14.6M236.0,1781.5h14.6M243.3,1774.2v14.6M233.8,1997.7h14.6M241.1,1990.4v14.6M238.5,2036.3h14.6M245.8,2029.0v14.6M236.1,2111.6h14.6M243.4,2104.3v14.6M232.7,2137.3h14.6M240.0,2130.0v14.6M315.3,2188.5h14.6M322.6,2181.2v14.6M235.7,2145.0h14.6M243.0,2137.7v14.6M236.7,2178.0h14.6M244.0,2170.7v14.6M235.7,2186.0h14.6M243.0,2178.7v14.6M234.7,2199.0h14.6M242.0,2191.7v14.6M236.7,2205.0h14.6M244.0,2197.7v14.6M350.0,1817.6h14.6M357.3,1810.3v14.6M350.0,1844.3h14.6M357.3,1837.0v14.6M350.0,1848.9h14.6M357.3,1841.6v14.6M350.0,1851.3h14.6M357.3,1844.0v14.6M350.0,1858.3h14.6M357.3,1851.0v14.6M350.0,1861.8h14.6M357.3,1854.5v14.6M350.0,1892.3h14.6M357.3,1885.0v14.6M350.0,1910.4h14.6M357.3,1903.1v14.6M350.0,1921.1h14.6M357.3,1913.8v14.6M350.0,1959.6h14.6M357.3,1952.3v14.6M350.0,1978.0h14.6M357.3,1970.7v14.6M350.0,1981.4h14.6M357.3,1974.1v14.6M350.0,1989.9h14.6M357.3,1982.6v14.6M350.0,1993.2h14.6M357.3,1985.9v14.6M350.0,2012.7h14.6M357.3,2005.4v14.6M350.0,2016.3h14.6M357.3,2009.0v14.6M350.0,2018.8h14.6M357.3,2011.5v14.6M350.0,2026.0h14.6M357.3,2018.7v14.6M350.0,2038.3h14.6M357.3,2031.0v14.6M350.0,2044.8h14.6M357.3,2037.5v14.6M350.0,2058.2h14.6M357.3,2050.9v14.6M350.0,2062.5h14.6M357.3,2055.2v14.6M350.0,2078.0h14.6M357.3,2070.7v14.6M350.0,2092.3h14.6M357.3,2085.0v14.6M350.0,2111.6h14.6M357.3,2104.3v14.6M350.0,2117.7h14.6M357.3,2110.4v14.6M350.0,2140.9h14.6M357.3,2133.6v14.6M349.2,1882.8h14.6M356.5,1875.5v14.6M344.4,1944.4h14.6M351.7,1937.1v14.6M348.1,2017.7h14.6M355.4,2010.4v14.6M346.6,2036.9h14.6M353.9,2029.6v14.6M343.0,2041.9h14.6M350.3,2034.6v14.6M347.2,2037.6h14.6M354.5,2030.3v14.6M348.7,2038.9h14.6M356.0,2031.6v14.6" fill="none" stroke="#0072BD" stroke-width="1.42"/>
<line x1="129.1" y1="2271" x2="616.5" y2="1783.1" stroke="#000" stroke-width="4.67"/>
<text transform="translate(468.93,2162.20) scale(0.9846,1)" font-family='"Liberation Sans",Arial,Helvetica,sans-serif' font-size="44.60" fill="#000">r=0.75648</text>
<text transform="translate(227.32,2408.80) scale(0.9866,1)" font-family='"Liberation Sans",Arial,Helvetica,sans-serif' font-size="49.17" fill="#262626">Predicted Value</text>
<text transform="translate(38.10,2119.18) rotate(-90) scale(0.9990,1)" font-family='"Liberation Sans",Arial,Helvetica,sans-serif' font-size="49.07" fill="#262626">True Value</text>
<text transform="translate(341.60,2481.41) scale(0.98,1)" text-anchor="middle" font-family='"Liberation Serif","Times New Roman",serif' font-size="48.06" fill="#000">(e)</text>
<path d="M828,1715.3V2288.4H1402.5" fill="none" stroke="#4a4a4a" stroke-width="1.42"/>
<path d="M828.00,2288.4v-5.59M971.62,2288.4v-5.59M1115.25,2288.4v-5.59M1258.88,2288.4v-5.59M1402.50,2288.4v-5.59M828,2288.40h5.59M828,2145.12h5.59M828,2001.85h5.59M828,1858.58h5.59M828,1715.30h5.59" fill="none" stroke="#4a4a4a" stroke-width="1.42"/>
<text transform="translate(828.00,2346.92) scale(0.97,1)" text-anchor="middle" font-family='"Liberation Sans",Arial,Helvetica,sans-serif' font-size="45.21" fill="#262626">-2</text>
<text transform="translate(971.62,2346.92) scale(0.97,1)" text-anchor="middle" font-family='"Liberation Sans",Arial,Helvetica,sans-serif' font-size="45.21" fill="#262626">0</text>
<text transform="translate(1115.25,2346.92) scale(0.97,1)" text-anchor="middle" font-family='"Liberation Sans",Arial,Helvetica,sans-serif' font-size="45.21" fill="#262626">2</text>
<text transform="translate(1258.88,2346.92) scale(0.97,1)" text-anchor="middle" font-family='"Liberation Sans",Arial,Helvetica,sans-serif' font-size="45.21" fill="#262626">4</text>
<text transform="translate(1402.50,2346.92) scale(0.97,1)" text-anchor="middle" font-family='"Liberation Sans",Arial,Helvetica,sans-serif' font-size="45.21" fill="#262626">6</text>
<text transform="translate(811.74,2305.67) scale(0.97,1)" text-anchor="end" font-family='"Liberation Sans",Arial,Helvetica,sans-serif' font-size="45.21" fill="#262626">-2</text>
<text transform="translate(811.74,2162.40) scale(0.97,1)" text-anchor="end" font-family='"Liberation Sans",Arial,Helvetica,sans-serif' font-size="45.21" fill="#262626">0</text>
<text transform="translate(811.74,2019.12) scale(0.97,1)" text-anchor="end" font-family='"Liberation Sans",Arial,Helvetica,sans-serif' font-size="45.21" fill="#262626">2</text>
<text transform="translate(811.74,1875.85) scale(0.97,1)" text-anchor="end" font-family='"Liberation Sans",Arial,Helvetica,sans-serif' font-size="45.21" fill="#262626">4</text>
<text transform="translate(811.74,1732.57) scale(0.97,1)" text-anchor="end" font-family='"Liberation Sans",Arial,Helvetica,sans-serif' font-size="45.21" fill="#262626">6</text>
<path d="M1276.5,1747.4h14.6M1283.8,1740.1v14.6M1209.1,1817.3h14.6M1216.4,1810.0v14.6M1235.9,1812.6h14.6M1243.2,1805.3v14.6M1245.8,1812.6h14.6M1253.1,1805.3v14.6M1226.8,1831.6h14.6M1234.1,1824.3v14.6M1263.2,1841.1h14.6M1270.5,1833.8v14.6M1252.7,1862.7h14.6M1260.0,1855.4v14.6M1204.3,1875.4h14.6M1211.6,1868.1v14.6M1235.9,1912.0h14.6M1243.2,1904.7v14.6M1059.0,1924.2h14.6M1066.3,1916.9v14.6M1002.8,1961.5h14.6M1010.1,1954.2v14.6M1059.0,1956.8h14.6M1066.3,1949.5v14.6M1171.6,1924.6h14.6M1178.9,1917.3v14.6M1183.2,1926.3h14.6M1190.5,1919.0v14.6M1205.3,1928.8h14.6M1212.6,1921.5v14.6M1214.8,1934.7h14.6M1222.1,1927.4v14.6M1147.4,1937.9h14.6M1154.7,1930.6v14.6M1145.3,1947.4h14.6M1152.6,1940.1v14.6M1184.9,1955.8h14.6M1192.2,1948.5v14.6M1149.5,1968.4h14.6M1156.8,1961.1v14.6M1100.1,1975.8h14.6M1107.4,1968.5v14.6M1115.9,1977.3h14.6M1123.2,1970.0v14.6M1129.5,1972.2h14.6M1136.8,1964.9v14.6M1138.0,1976.4h14.6M1145.3,1969.1v14.6M1100.1,1987.4h14.6M1107.4,1980.1v14.6M1100.7,1988.0h14.6M1108.0,1980.7v14.6M1124.3,1983.2h14.6M1131.6,1975.9v14.6M1124.9,1989.1h14.6M1132.2,1981.8v14.6M981.1,2031.2h14.6M988.4,2023.9v14.6M1052.7,2038.3h14.6M1060.0,2031.0v14.6M1062.2,2036.8h14.6M1069.5,2029.5v14.6M1076.9,2030.5h14.6M1084.2,2023.2v14.6M1080.1,2047.4h14.6M1087.4,2040.1v14.6M1061.1,2050.9h14.6M1068.4,2043.6v14.6M1071.6,2054.7h14.6M1078.9,2047.4v14.6M1058.6,2042.1h14.6M1065.9,2034.8v14.6M932.3,2107.8h14.6M939.6,2100.5v14.6M1059.7,2101.1h14.6M1067.0,2093.8v14.6M1048.1,2107.8h14.6M1055.4,2100.5v14.6M1064.9,2106.3h14.6M1072.2,2099.0v14.6M1065.7,2107.0h14.6M1073.0,2099.7v14.6M1041.3,2118.3h14.6M1048.6,2111.0v14.6M946.0,2124.6h14.6M953.3,2117.3v14.6M938.6,2131.6h14.6M945.9,2124.3v14.6M1009.1,2137.9h14.6M1016.4,2130.6v14.6M911.2,2156.8h14.6M918.5,2149.5v14.6M921.8,2150.5h14.6M929.1,2143.2v14.6M932.3,2149.5h14.6M939.6,2142.2v14.6M954.4,2144.2h14.6M961.7,2136.9v14.6M949.1,2150.5h14.6M956.4,2143.2v14.6M963.9,2152.6h14.6M971.2,2145.3v14.6M944.9,2154.7h14.6M952.2,2147.4v14.6M941.8,2159.0h14.6M949.1,2151.7v14.6M934.4,2163.2h14.6M941.7,2155.9v14.6M984.9,2165.3h14.6M992.2,2158.0v14.6M919.7,2170.5h14.6M927.0,2163.2v14.6M926.0,2172.6h14.6M933.3,2165.3v14.6M949.1,2168.8h14.6M956.4,2161.5v14.6M1002.8,2174.7h14.6M1010.1,2167.4v14.6M1008.1,2177.9h14.6M1015.4,2170.6v14.6M1018.6,2187.4h14.6M1025.9,2180.1v14.6M954.4,2182.7h14.6M961.7,2175.4v14.6M928.1,2183.2h14.6M935.4,2175.9v14.6M967.0,2190.5h14.6M974.3,2183.2v14.6M889.1,2189.1h14.6M896.4,2181.8v14.6M900.7,2192.6h14.6M908.0,2185.3v14.6M890.2,2193.7h14.6M897.5,2186.4v14.6M896.5,2200.0h14.6M903.8,2192.7v14.6M924.9,2202.1h14.6M932.2,2194.8v14.6M875.4,2204.2h14.6M882.7,2196.9v14.6M861.8,2205.9h14.6M869.1,2198.6v14.6M927.0,2208.4h14.6M934.3,2201.1v14.6M913.3,2208.4h14.6M920.6,2201.1v14.6M911.2,2212.6h14.6M918.5,2205.3v14.6M900.7,2214.7h14.6M908.0,2207.4v14.6M912.3,2217.9h14.6M919.6,2210.6v14.6M959.6,2224.2h14.6M966.9,2216.9v14.6M876.5,2226.3h14.6M883.8,2219.0v14.6M912.3,2229.1h14.6M919.6,2221.8v14.6M841.8,2237.9h14.6M849.1,2230.6v14.6M849.5,2247.5h14.6M856.8,2240.2v14.6M872.6,2257.1h14.6M879.9,2249.8v14.6M885.3,2254.6h14.6M892.6,2247.3v14.6M894.8,2257.1h14.6M902.1,2249.8v14.6M909.1,2244.5h14.6M916.4,2237.2v14.6M932.3,2258.4h14.6M939.6,2251.1v14.6M981.0,2254.8h14.6M988.3,2247.5v14.6M869.5,2275.6h14.6M876.8,2268.3v14.6M872.6,2286.6h14.6M879.9,2279.3v14.6M899.3,2213.9h14.6M906.6,2206.6v14.6M903.5,2211.0h14.6M910.8,2203.7v14.6M888.1,2194.2h14.6M895.4,2186.9v14.6M895.1,2198.4h14.6M902.4,2191.1v14.6M1003.2,1783.7h14.6M1010.5,1776.4v14.6M1280.0,1982.7h14.6M1287.3,1975.4v14.6" fill="none" stroke="#0072BD" stroke-width="1.42"/>
<line x1="830.1" y1="2286.1" x2="1367.8" y2="1748.6" stroke="#000" stroke-width="4.67"/>
<text transform="translate(1186.16,2162.20) scale(0.9753,1)" font-family='"Liberation Sans",Arial,Helvetica,sans-serif' font-size="44.60" fill="#000">r=0.90664</text>
<text transform="translate(944.42,2408.80) scale(0.9860,1)" font-family='"Liberation Sans",Arial,Helvetica,sans-serif' font-size="49.17" fill="#262626">Predicted Value</text>
<text transform="translate(755.30,2118.98) rotate(-90) scale(0.9982,1)" font-family='"Liberation Sans",Arial,Helvetica,sans-serif' font-size="49.07" fill="#262626">True Value</text>
<text transform="translate(1057.90,2481.41) scale(0.98,1)" text-anchor="middle" font-family='"Liberation Serif","Times New Roman",serif' font-size="48.06" fill="#000">(f)</text>
</svg>
</body></html>
